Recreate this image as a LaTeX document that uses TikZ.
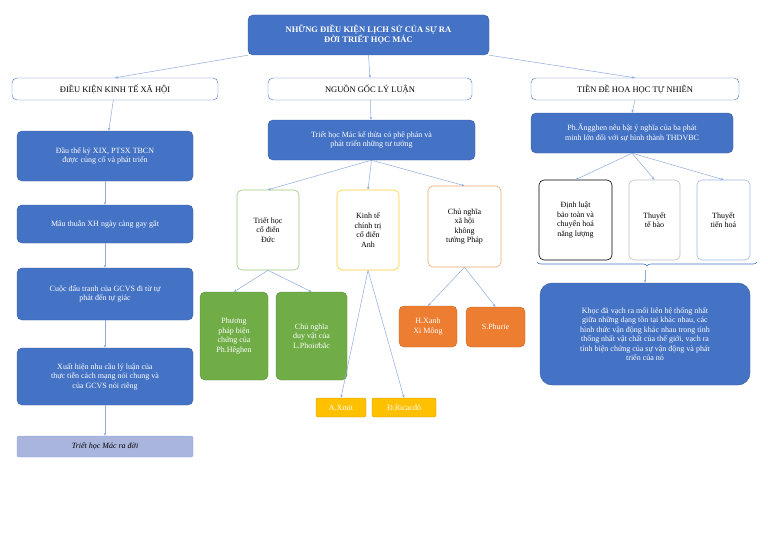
\documentclass[tikz,border=0pt]{standalone}
\usepackage{fontspec}
\setmainfont{Liberation Serif}
\usetikzlibrary{arrows.meta,decorations.pathreplacing}
\definecolor{bl}{HTML}{4472C4}
\definecolor{ln}{HTML}{8FAADC}
\definecolor{gr}{HTML}{70AD47}
\definecolor{ye}{HTML}{FFC000}
\definecolor{orr}{HTML}{ED7D31}
\definecolor{lav}{HTML}{A9B5DD}
\begin{document}
\begin{tikzpicture}[x=1pt,y=-1pt,
  box/.style={rounded corners=5pt,align=center,font=\fontsize{8}{9.5}\selectfont,inner sep=2pt},
  blue/.style={box,fill=bl,draw=bl!80!black,text=white},
  head/.style={box,draw=bl,fill=white,font=\fontsize{8.5}{10}\selectfont},
  wb/.style={box,fill=white,line width=0.6pt},
  ar/.style={draw=ln,-{Stealth[length=3pt,width=2.5pt]},line width=0.5pt}]
\useasboundingbox (0,0) rectangle (768,543);
\newcommand{\bx}[6]{\node[#1,minimum width=#4-#2,minimum height=#5-#3] (#6) at ({(#2+#4)/2},{(#3+#5)/2})}
\bx{blue,font=\bfseries\fontsize{8.5}{10}\selectfont}{248}{15}{489}{55}{title}{NHỮNG ĐIỀU KIỆN LỊCH SỬ CỦA SỰ RA\\ĐỜI TRIẾT HỌC MÁC};
\bx{head}{12}{78}{218}{100}{h1}{ĐIỀU KIỆN KINH TẾ XÃ HỘI};
\bx{head}{268}{78}{472}{100}{h2}{NGUỒN GỐC LÝ LUẬN};
\bx{head}{531}{78}{739}{100}{h3}{TIỀN ĐỀ HOA HỌC TỰ NHIÊN};
\bx{blue}{17}{131}{193}{181}{l1}{Đầu thế kỷ XIX, PTSX TBCN\\được củng cố và phát triển};
\bx{blue}{17}{205}{193}{243}{l2}{Mâu thuẫn XH ngày càng gay gắt};
\bx{blue}{17}{268}{193}{320}{l3}{Cuộc đấu tranh của GCVS đi từ tự\\phát đến tự giác};
\bx{blue}{17}{348}{193}{405}{l4}{Xuất hiện nhu cầu lý luận của\\thực tiễn cách mạng nói chung và\\của GCVS nói riêng};
\bx{box,fill=lav,draw=bl!60,rounded corners=2pt,font=\itshape\fontsize{8}{9.5}\selectfont}{17}{436}{193}{457}{l5}{Triết học Mác ra đời};
\bx{blue}{268}{120}{475}{160}{m1}{Triết học Mác kế thừa có phê phán và\\phát triển những tư tưởng};
\bx{wb,draw=gr!70}{237}{190}{299}{270}{d}{Triết học\\cổ điển\\Đức};
\bx{wb,draw=ye!80}{337}{190}{399}{270}{k}{Kinh tế\\chính trị\\cổ điển\\Anh};
\bx{wb,draw=orr!70}{428}{186}{501}{267}{c}{Chủ nghĩa\\xã hội\\không\\tưởng Pháp};
\bx{box,fill=gr,draw=gr!80!black,text=white}{200}{292}{268}{380}{d1}{Phương\\pháp biện\\chứng của\\Ph.Hêghen};
\bx{box,fill=gr,draw=gr!80!black,text=white}{276}{292}{347}{380}{d2}{Chủ nghĩa\\duy vật của\\L.Phoiơbắc};
\bx{box,fill=ye,draw=ye!80!black,text=white,rounded corners=2pt}{316}{398}{366}{417}{k1}{A.Xmit};
\bx{box,fill=ye,draw=ye!80!black,text=white,rounded corners=2pt}{372}{398}{436}{417}{k2}{Đ.Ricacđô};
\bx{box,fill=orr,draw=orr!80!black,text=white}{399}{306}{457}{347}{c1}{H.Xanh\\Xi Mông};
\bx{box,fill=orr,draw=orr!80!black,text=white}{466}{307}{525}{347}{c2}{S.Phurie};
\bx{blue}{531}{113}{733}{153}{r1}{Ph.Ăngghen nêu bật ý nghĩa của ba phát\\minh lớn đối với sự hình thành THDVBC};
\bx{wb,draw=black}{539}{180}{612}{260}{t1}{Định luật\\bảo toàn và\\chuyển hoá\\năng lượng};
\bx{wb,draw=gray!50}{629}{180}{680}{260}{t2}{Thuyết\\tế bào};
\bx{wb,draw=bl!50}{697}{180}{750}{260}{t3}{Thuyết\\tiến hoá};
\bx{blue,rounded corners=12pt}{540}{283}{750}{385}{r2}{Khọc đã vạch ra mối liên hệ thống nhất\\giữa những dạng tồn tại khác nhau, các\\hình thức vận động khác nhau trong tính\\thống nhất vật chất của thế giới, vạch ra\\tính biện chứng của sự vận động và phát\\triển của nó};
\draw[decorate,decoration={brace,mirror,amplitude=4pt},draw=bl,line width=0.6pt] (537,262) -- (757,262) coordinate[midway] (br);
\coordinate (brm) at (645,270);
\draw[ar] (brm) -- (r2.north -| brm);
\draw[ar] (title.south west) -- (h1.north);
\draw[ar] (title.south) -- (h2.north);
\draw[ar] (title.south east) -- (h3.north);
\draw[ar] (h1) -- (l1); \draw[ar] (l1) -- (l2); \draw[ar] (l2) -- (l3); \draw[ar] (l3) -- (l4); \draw[ar] (l4) -- (l5);
\draw[ar] (h2) -- (m1); \draw[ar] (h3.south) -- (r1.north);
\draw[ar] (m1.south) -- (d.north); \draw[ar] (m1.south) -- (k.north); \draw[ar] (m1.south) -- (c.north);
\draw[ar] (d.south) -- (d1.north); \draw[ar] (d.south) -- (d2.north);
\draw[ar] (k.south) -- (k1.north); \draw[ar] (k.south) -- (k2.north);
\draw[ar] (c.south) -- (c1.north); \draw[ar] (c.south) -- (c2.north);
\draw[ar] (r1.south) -- (t1.north); \draw[ar] (r1.south) -- (t2.north); \draw[ar] (r1.south) -- (t3.north);
\end{tikzpicture}
\end{document}
